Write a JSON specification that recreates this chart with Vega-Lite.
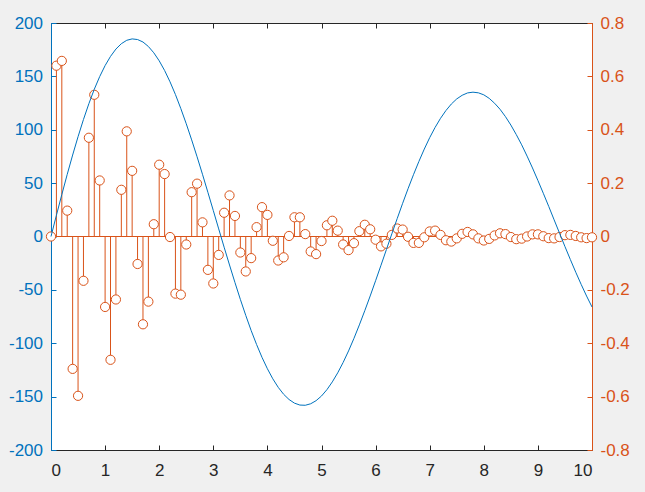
{
  "$schema": "https://vega.github.io/schema/vega-lite/v6.json",
  "width": 541,
  "height": 427,
  "autosize": {"type": "none"},
  "padding": {"left": 51, "top": 23, "right": 53, "bottom": 42},
  "background": "#f0f0f0",
  "config": {
    "view": {"fill": "white", "stroke": null},
    "font": "Liberation Sans",
    "axis": {"labelFont": "Liberation Sans", "labelFontSize": 17, "grid": false, "title": null, "domainWidth": 1, "tickWidth": 1, "tickSize": -5}
  },
  "datasets": {
    "stem": [
      {"x":0,"v":0},{"x":0.1,"v":0.64},{"x":0.2,"v":0.658},{"x":0.3,"v":0.097},{"x":0.4,"v":-0.496},{"x":0.5,"v":-0.597},{"x":0.6,"v":-0.166},{"x":0.7,"v":0.37},{"x":0.8,"v":0.531},{"x":0.9,"v":0.21},
      {"x":1.0,"v":-0.264},{"x":1.1,"v":-0.462},{"x":1.2,"v":-0.236},{"x":1.3,"v":0.175},{"x":1.4,"v":0.394},{"x":1.5,"v":0.246},{"x":1.6,"v":-0.103},{"x":1.7,"v":-0.329},{"x":1.8,"v":-0.244},{"x":1.9,"v":0.046},
      {"x":2.0,"v":0.269},{"x":2.1,"v":0.234},{"x":2.2,"v":-0.002},{"x":2.3,"v":-0.214},{"x":2.4,"v":-0.218},{"x":2.5,"v":-0.03},{"x":2.6,"v":0.166},{"x":2.7,"v":0.198},{"x":2.8,"v":0.053},{"x":2.9,"v":-0.125},
      {"x":3.0,"v":-0.176},{"x":3.1,"v":-0.069},{"x":3.2,"v":0.089},{"x":3.3,"v":0.154},{"x":3.4,"v":0.077},{"x":3.5,"v":-0.06},{"x":3.6,"v":-0.131},{"x":3.7,"v":-0.081},{"x":3.8,"v":0.035},{"x":3.9,"v":0.11},
      {"x":4.0,"v":0.081},{"x":4.1,"v":-0.016},{"x":4.2,"v":-0.09},{"x":4.3,"v":-0.078},{"x":4.4,"v":0.002},{"x":4.5,"v":0.072},{"x":4.6,"v":0.072},{"x":4.7,"v":0.009},{"x":4.8,"v":-0.056},{"x":4.9,"v":-0.066},
      {"x":5.0,"v":-0.017},{"x":5.1,"v":0.042},{"x":5.2,"v":0.059},{"x":5.3,"v":0.022},{"x":5.4,"v":-0.03},{"x":5.5,"v":-0.051},{"x":5.6,"v":-0.025},{"x":5.7,"v":0.02},{"x":5.8,"v":0.044},{"x":5.9,"v":0.027},
      {"x":6.0,"v":-0.012},{"x":6.1,"v":-0.037},{"x":6.2,"v":-0.027},{"x":6.3,"v":0.006},{"x":6.4,"v":0.03},{"x":6.5,"v":0.026},{"x":6.6,"v":-0.001},{"x":6.7,"v":-0.024},{"x":6.8,"v":-0.024},{"x":6.9,"v":-0.003},
      {"x":7.0,"v":0.019},{"x":7.1,"v":0.022},{"x":7.2,"v":0.006},{"x":7.3,"v":-0.014},{"x":7.4,"v":-0.019},{"x":7.5,"v":-0.007},{"x":7.6,"v":0.01},{"x":7.7,"v":0.017},{"x":7.8,"v":0.008},{"x":7.9,"v":-0.007},
      {"x":8.0,"v":-0.015},{"x":8.1,"v":-0.009},{"x":8.2,"v":0.004},{"x":8.3,"v":0.012},{"x":8.4,"v":0.009},{"x":8.5,"v":-0.002},{"x":8.6,"v":-0.01},{"x":8.7,"v":-0.008},{"x":8.8,"v":0.0},{"x":8.9,"v":0.008},
      {"x":9.0,"v":0.008},{"x":9.1,"v":0.001},{"x":9.2,"v":-0.006},{"x":9.3,"v":-0.007},{"x":9.4,"v":-0.002},{"x":9.5,"v":0.005},{"x":9.6,"v":0.006},{"x":9.7,"v":0.002},{"x":9.8,"v":-0.003},{"x":9.9,"v":-0.006},
      {"x":10.0,"v":-0.003}
    ],
    "curve": [
      {"x":0,"y":0},{"x":0.1,"y":19.9},{"x":0.2,"y":39.3},{"x":0.3,"y":58.2},{"x":0.4,"y":76.3},{"x":0.5,"y":93.5},{"x":0.6,"y":109.6},{"x":0.7,"y":124.4},{"x":0.8,"y":137.9},{"x":0.9,"y":149.8},
      {"x":1.0,"y":160.1},{"x":1.1,"y":168.7},{"x":1.2,"y":175.6},{"x":1.3,"y":180.6},{"x":1.4,"y":183.8},{"x":1.5,"y":185.1},{"x":1.6,"y":184.5},{"x":1.7,"y":182.2},{"x":1.8,"y":178.0},{"x":1.9,"y":172.1},
      {"x":2.0,"y":164.6},{"x":2.1,"y":155.5},{"x":2.2,"y":144.9},{"x":2.3,"y":133.0},{"x":2.4,"y":119.8},{"x":2.5,"y":105.6},{"x":2.6,"y":90.5},{"x":2.7,"y":74.7},{"x":2.8,"y":58.3},{"x":2.9,"y":41.4},
      {"x":3.0,"y":24.3},{"x":3.1,"y":7.1},{"x":3.2,"y":-10.0},{"x":3.3,"y":-26.7},{"x":3.4,"y":-43.1},{"x":3.5,"y":-58.9},{"x":3.6,"y":-73.9},{"x":3.7,"y":-88.1},{"x":3.8,"y":-101.2},{"x":3.9,"y":-113.2},
      {"x":4.0,"y":-123.9},{"x":4.1,"y":-133.3},{"x":4.2,"y":-141.3},{"x":4.3,"y":-147.8},{"x":4.4,"y":-152.7},{"x":4.5,"y":-156.1},{"x":4.6,"y":-157.9},{"x":4.7,"y":-158.1},{"x":4.8,"y":-156.7},{"x":4.9,"y":-153.8},
      {"x":5.0,"y":-149.4},{"x":5.1,"y":-143.5},{"x":5.2,"y":-136.2},{"x":5.3,"y":-127.7},{"x":5.4,"y":-118.0},{"x":5.5,"y":-107.2},{"x":5.6,"y":-95.4},{"x":5.7,"y":-82.8},{"x":5.8,"y":-69.5},{"x":5.9,"y":-55.7},
      {"x":6.0,"y":-41.4},{"x":6.1,"y":-26.9},{"x":6.2,"y":-12.2},{"x":6.3,"y":2.5},{"x":6.4,"y":16.9},{"x":6.5,"y":31.1},{"x":6.6,"y":44.8},{"x":6.7,"y":57.9},{"x":6.8,"y":70.3},{"x":6.9,"y":81.9},
      {"x":7.0,"y":92.6},{"x":7.1,"y":102.2},{"x":7.2,"y":110.7},{"x":7.3,"y":118.0},{"x":7.4,"y":124.1},{"x":7.5,"y":128.9},{"x":7.6,"y":132.3},{"x":7.7,"y":134.5},{"x":7.8,"y":135.2},{"x":7.9,"y":134.6},
      {"x":8.0,"y":132.7},{"x":8.1,"y":129.4},{"x":8.2,"y":124.8},{"x":8.3,"y":119.2},{"x":8.4,"y":112.3},{"x":8.5,"y":104.4},{"x":8.6,"y":95.5},{"x":8.7,"y":85.9},{"x":8.8,"y":75.3},{"x":8.9,"y":64.2},
      {"x":9.0,"y":52.5},{"x":9.1,"y":40.5},{"x":9.2,"y":28.2},{"x":9.3,"y":15.6},{"x":9.4,"y":3.1},{"x":9.5,"y":-9.4},{"x":9.6,"y":-21.6},{"x":9.7,"y":-33.5},{"x":9.8,"y":-44.9},{"x":9.9,"y":-55.8},
      {"x":10.0,"y":-66.0}
    ]
  },
  "layer": [
    {
      "data": {"name": "stem"},
      "encoding": {
        "x": {"field": "x", "type": "quantitative", "scale": {"domain": [0, 10], "nice": false, "zero": false},
              "axis": {"orient": "top", "labels": false, "values": [0,1,2,3,4,5,6,7,8,9,10], "domainColor": "#262626", "tickColor": "#262626"}}
      },
      "layer": [
        {
          "mark": {"type": "rule", "color": "#D95319", "strokeWidth": 1},
          "encoding": {
            "y": {"field": "v", "type": "quantitative", "scale": {"domain": [-0.8, 0.8], "nice": false, "zero": false},
                  "axis": {"orient": "right", "values": [-0.8,-0.6,-0.4,-0.2,0,0.2,0.4,0.6,0.8], "labelExpr": "'' + datum.value",
                           "domainColor": "#D95319", "tickColor": "#D95319", "labelColor": "#D95319", "labelPadding": 13}},
            "y2": {"datum": 0}
          }
        },
        {
          "mark": {"type": "rule", "color": "#D95319", "strokeWidth": 1},
          "encoding": {"y": {"datum": 0, "type": "quantitative"}, "x": null}
        },
        {
          "mark": {"type": "point", "shape": "circle", "filled": true, "fill": "white", "stroke": "#D95319", "strokeWidth": 1, "size": 85, "opacity": 1},
          "encoding": {"y": {"field": "v", "type": "quantitative"}}
        }
      ]
    },
    {
      "data": {"name": "curve"},
      "mark": {"type": "line", "color": "#0072BD", "strokeWidth": 1},
      "encoding": {
        "x": {"field": "x", "type": "quantitative",
              "axis": {"orient": "bottom", "values": [0,1,2,3,4,5,6,7,8,9,10], "domainColor": "#262626", "tickColor": "#262626", "labelColor": "#262626", "labelPadding": 17}},
        "y": {"field": "y", "type": "quantitative", "scale": {"domain": [-200, 200], "nice": false, "zero": false},
              "axis": {"orient": "left", "values": [-200,-150,-100,-50,0,50,100,150,200], "labelExpr": "'' + datum.value",
                       "domainColor": "#0072BD", "tickColor": "#0072BD", "labelColor": "#0072BD", "labelPadding": 13.5}}
      }
    }
  ],
  "resolve": {"scale": {"y": "independent"}, "axis": {"x": "independent", "y": "independent"}}
}
